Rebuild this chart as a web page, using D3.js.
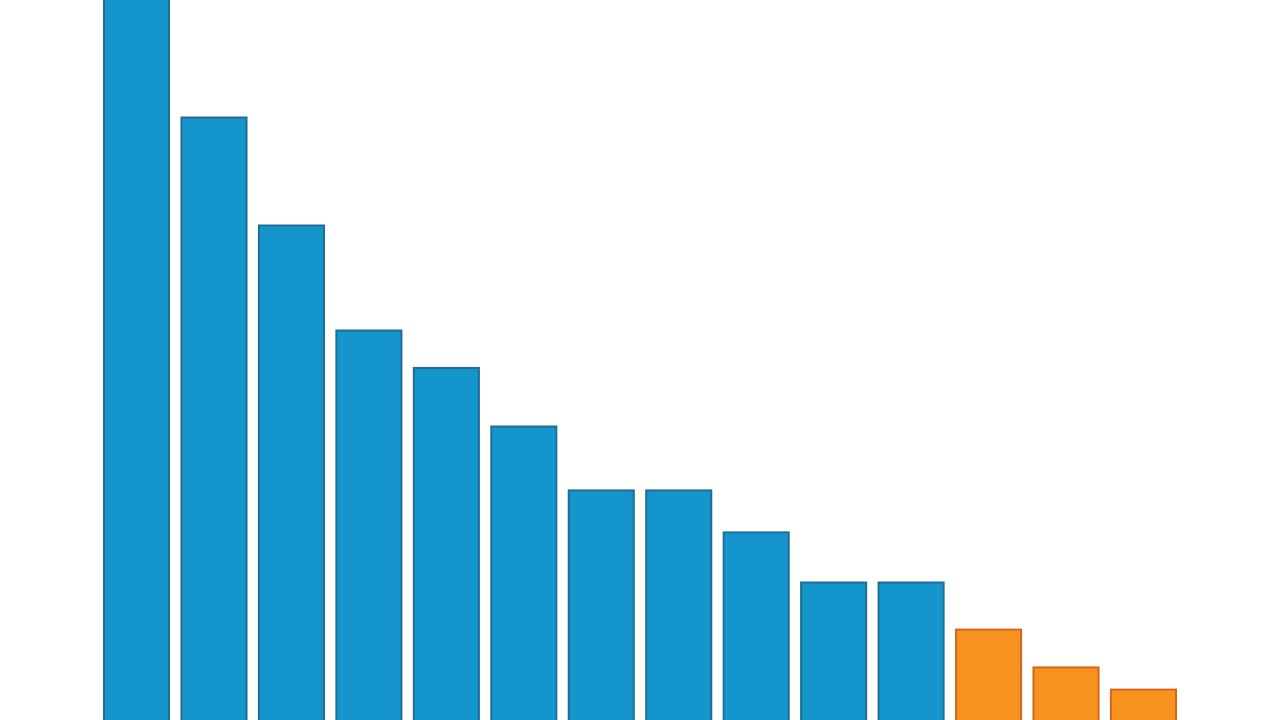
<!DOCTYPE html>
<html>
<head>
<meta charset="utf-8">
<script src="https://cdn.jsdelivr.net/npm/d3@7"></script>
<style>
  html, body { margin: 0; padding: 0; background: #fff; overflow: hidden; }
</style>
</head>
<body>
<div id="chart"></div>
<script>
const categories = ["A", "B", "C", "D", "E", "F", "G", "H", "I", "J", "K", "L", "M", "N"];
const values = [25, 20.1, 16.5, 13, 11.75, 9.8, 7.67, 7.67, 6.27, 4.6, 4.6, 3.03, 1.77, 1.03];
const groups = ["main", "main", "main", "main", "main", "main", "main", "main", "main", "main", "main", "other", "other", "other"];

const width = 1280;
const height = 720;

const fills = { main: "#1496cc", other: "#f8921f" };
const strokes = { main: "#1f6e96", other: "#d9651c" };

const svg = d3.select("#chart")
    .append("svg")
    .attr("width", width)
    .attr("height", height);

const x = d3.scaleBand()
    .domain(categories)
    .range([97.8, 1182.2])
    .paddingInner(0.16)
    .paddingOuter(0.08);

// y scale: 24 units fill the view; bars run past the bottom edge
const y = d3.scaleLinear()
    .domain([0, 24])
    .range([720.5, 0.5]);

svg.selectAll("rect")
    .data(values)
    .enter()
    .append("rect")
    .attr("x", (d, i) => x(categories[i]))
    .attr("y", (d) => y(d))
    .attr("width", x.bandwidth())
    .attr("height", (d) => y(0) - y(d) + 10)
    .attr("fill", (d, i) => fills[groups[i]])
    .attr("stroke", (d, i) => strokes[groups[i]])
    .attr("stroke-width", 2);
</script>
</body>
</html>
